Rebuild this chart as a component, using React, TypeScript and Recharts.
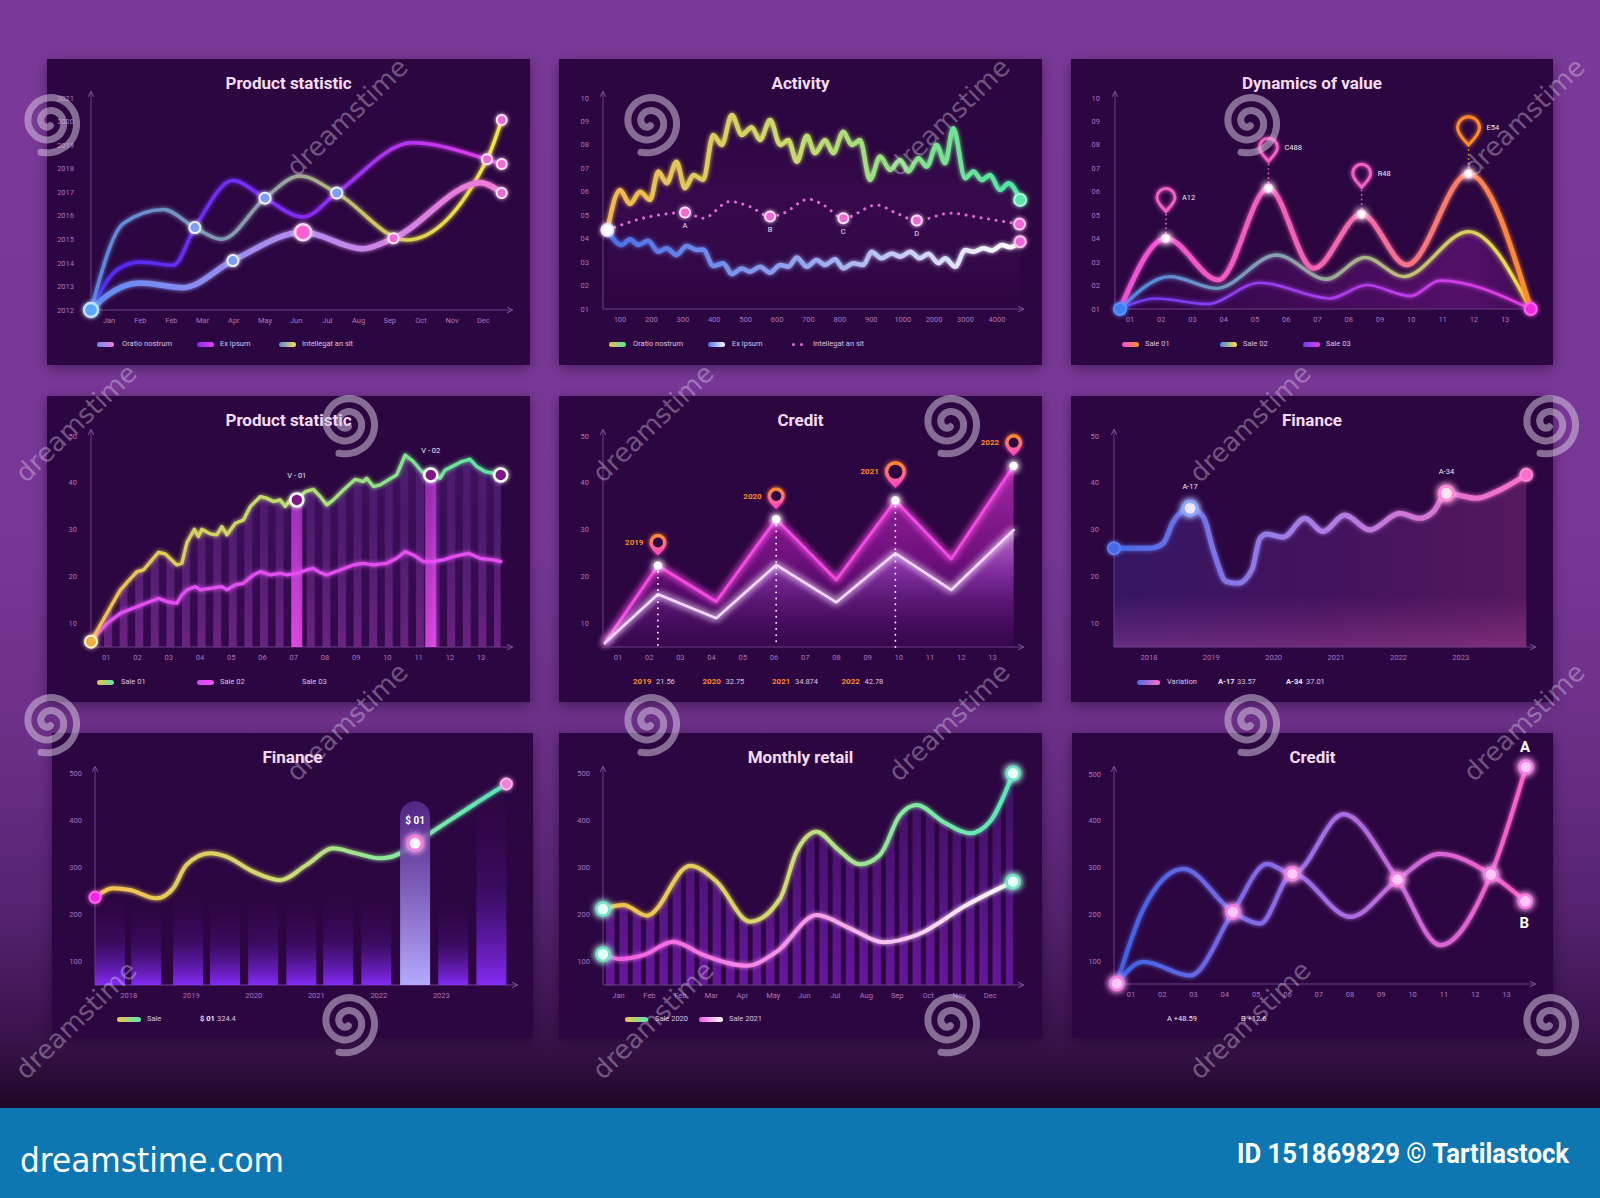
import React from "react";
import { ComposedChart, Line, Area, Scatter, XAxis, YAxis } from "recharts";

const FONT = "Roboto, 'Noto Sans', sans-serif";
const PANEL_BG = "#2c0640";
const AXIS = "#6f3f88";
const TICK = "#ad74c0";
const LEG = "#dcc3e3";
const TITLE = "#f4dcf6";

// ---------- 1. Product statistic (x: month slot, Jan = 1; y: year) ----------
const p1Months = ["Jan", "Feb", "Feb", "Mar", "Apr", "May", "Jun", "Jul", "Aug", "Sep", "Oct", "Nov", "Dec"];
const p1Years = [2012, 2013, 2014, 2015, 2016, 2017, 2018, 2019, 2020, 2021];
const p1Oratio = [[0.42, 2012], [0.92, 2012.6], [1.99, 2013.15], [3.37, 2012.95], [4.97, 2014.1], [7.22, 2015.3], [9.12, 2014.6], [10.12, 2015.05], [12.92, 2017.4], [13.59, 2016.97]];
const p1Ex = [[0.42, 2012], [1.25, 2013.7], [1.99, 2014.04], [3.06, 2013.9], [3.75, 2015.5], [4.97, 2017.5], [6.0, 2016.75], [7.22, 2015.95], [8.3, 2016.97], [10.72, 2019.1], [13.12, 2018.4], [13.59, 2018.2]];
const p1Int = [[0.42, 2012], [1.46, 2015.68], [2.74, 2016.27], [3.75, 2015.5], [4.61, 2015.0], [6.0, 2016.75], [7.12, 2017.69], [8.3, 2016.97], [10.54, 2014.97], [13.12, 2018.4], [13.59, 2020.07]];
const p1Start = [[0.42, 2012]];
const p1MarkBlue = [[3.75, 2015.5], [4.97, 2014.1], [6.0, 2016.75], [8.3, 2016.97]];
const p1MarkBig = [[7.22, 2015.3]];
const p1MarkPink = [[10.12, 2015.05], [13.12, 2018.4], [13.59, 2018.2], [13.59, 2016.97], [13.59, 2020.07]];

// ---------- 2. Activity (x: label slot, 100 = 0) ----------
const p2XLabels = ["100", "200", "300", "400", "500", "600", "700", "800", "900", "1000", "2000", "3000", "4000"];
const p2Or = [[-0.4, 4.37], [0, 6.07], [0.32, 5.48], [0.64, 6.0], [0.96, 5.65], [1.22, 6.86], [1.49, 6.36], [1.8, 7.28], [2.07, 6.15], [2.34, 6.71], [2.65, 6.5], [2.97, 8.42], [3.24, 7.99], [3.56, 9.27], [3.88, 8.42], [4.19, 8.75], [4.46, 8.2], [4.78, 9.06], [5.1, 7.99], [5.36, 8.2], [5.63, 7.28], [5.95, 8.38], [6.21, 7.64], [6.53, 8.2], [6.79, 7.64], [7.11, 8.56], [7.38, 7.99], [7.64, 8.2], [7.96, 6.5], [8.28, 7.5], [8.6, 6.93], [8.92, 7.35], [9.18, 6.86], [9.5, 7.43], [9.77, 7.07], [10.08, 7.99], [10.35, 7.21], [10.61, 8.7], [10.99, 6.57], [11.25, 6.86], [11.52, 6.5], [11.78, 6.71], [12.1, 6.07], [12.37, 6.36], [12.74, 5.65]];
const p2Ex = [[-0.4, 4.37], [0.05, 3.73], [0.32, 3.97], [0.58, 3.73], [0.9, 3.91], [1.22, 3.44], [1.49, 3.59], [1.8, 3.3], [2.12, 3.69], [2.44, 3.52], [2.65, 3.54], [2.97, 2.83], [3.29, 2.95], [3.56, 2.49], [3.88, 2.73], [4.14, 2.59], [4.46, 2.8], [4.78, 2.55], [5.1, 2.88], [5.36, 2.8], [5.63, 3.2], [5.95, 2.8], [6.26, 3.09], [6.53, 2.88], [6.85, 3.12], [7.11, 2.73], [7.43, 2.95], [7.75, 2.88], [8.01, 3.44], [8.33, 3.16], [8.65, 3.37], [8.92, 3.23], [9.24, 3.44], [9.55, 3.16], [9.82, 3.35], [10.14, 2.95], [10.35, 3.16], [10.67, 2.8], [10.99, 3.52], [11.25, 3.44], [11.57, 3.59], [11.84, 3.49], [12.16, 3.73], [12.42, 3.63], [12.74, 3.87]];
const p2Dots = [[-0.4, 4.37], [0.96, 4.94], [2.07, 5.11], [2.65, 4.87], [3.5, 5.58], [4.14, 5.36], [4.78, 4.94], [5.2, 5.08], [6.0, 5.68], [6.48, 5.43], [7.11, 4.87], [8.17, 5.43], [8.81, 5.08], [9.45, 4.77], [10.51, 5.08], [11.57, 4.87], [12.72, 4.62]];
const p2Labels = [{ x: 2.07, y: 5.11, label: "A" }, { x: 4.78, y: 4.94, label: "B" }, { x: 7.11, y: 4.87, label: "C" }, { x: 9.45, y: 4.77, label: "D" }];
const p2Start = [[-0.4, 4.37]];
const p2EndGreen = [[12.74, 5.65]];
const p2EndPink = [[12.72, 4.62], [12.74, 3.87]];

// ---------- 3. Dynamics of value ----------
const p3Sale1 = [[0.68, 1.0], [2.15, 4.01], [3.83, 2.24], [5.43, 6.15], [6.87, 2.73], [8.41, 5.04], [9.85, 2.88], [11.83, 6.76], [13.82, 1.0]];
const p3Sale2 = [[0.68, 1.0], [2.28, 2.38], [3.77, 1.88], [5.69, 3.3], [7.29, 2.27], [8.52, 3.2], [9.75, 2.38], [11.83, 4.3], [13.82, 1.0]];
const p3Sale3 = [[0.68, 1.0], [1.85, 1.45], [3.45, 1.21], [5.16, 2.12], [7.4, 1.45], [8.57, 2.02], [9.96, 1.55], [10.92, 2.21], [13.82, 1.0]];
const p3Pins = [{ x: 2.15, y: 4.01, label: "A12" }, { x: 5.43, y: 6.15, label: "C488" }, { x: 8.41, y: 5.04, label: "R48" }, { x: 11.83, y: 6.76, label: "E54" }];
const p3Start = [[0.68, 1.0]];
const p3End = [[13.82, 1.0]];

// ---------- 4. Product statistic (jagged) ----------
const p4Sale1 = [[0.51, 6.0], [1.02, 12.07], [1.45, 17.07], [1.98, 20.99], [2.19, 21.35], [2.67, 25.13], [2.89, 24.78], [3.26, 22.42], [3.42, 22.78], [3.58, 27.2], [3.82, 30.06], [3.95, 28.49], [4.06, 30.06], [4.33, 29.06], [4.54, 28.84], [4.7, 30.63], [4.86, 28.84], [5.13, 31.34], [5.39, 32.06], [5.61, 34.91], [5.93, 37.05], [6.14, 36.7], [6.35, 35.98], [6.57, 36.34], [6.73, 34.91], [6.89, 36.34], [7.1, 36.34], [7.37, 38.12], [7.63, 38.62], [7.85, 37.05], [8.06, 35.27], [8.27, 36.34], [8.59, 38.48], [8.97, 40.76], [9.23, 40.27], [9.34, 40.98], [9.55, 39.2], [9.77, 39.55], [10.03, 40.62], [10.3, 41.69], [10.57, 45.97], [10.83, 44.55], [11.1, 42.41], [11.39, 41.69], [11.69, 40.98], [11.85, 42.76], [12.17, 43.83], [12.38, 44.55], [12.65, 45.04], [12.86, 43.48], [13.13, 42.41], [13.39, 42.05], [13.63, 41.69]];
const p4Sale2 = [[0.51, 6.0], [1.02, 9.9], [1.45, 12.07], [1.98, 13.49], [2.67, 15.28], [2.94, 14.57], [3.26, 14.21], [3.42, 16.0], [3.58, 17.07], [3.85, 17.78], [4.01, 17.07], [4.33, 17.42], [4.7, 17.78], [4.86, 17.07], [5.13, 18.14], [5.39, 18.49], [5.71, 20.28], [5.93, 20.99], [6.25, 20.28], [6.57, 20.64], [6.78, 20.28], [7.1, 20.64], [7.42, 21.35], [7.63, 21.7], [7.85, 20.78], [8.06, 20.28], [8.49, 21.35], [8.91, 22.42], [9.23, 22.78], [9.55, 22.42], [9.98, 22.78], [10.3, 23.84], [10.57, 25.27], [10.83, 24.56], [11.15, 23.13], [11.47, 23.13], [11.79, 23.49], [12.11, 24.2], [12.59, 24.92], [12.97, 23.84], [13.39, 23.49], [13.63, 23.13]];
const p4Marks = [{ x: 7.1, y: 36.34, label: "V - 01" }, { x: 11.39, y: 41.69, label: "V - 02" }];
const p4Start = [[0.51, 6.0]];
const p4End = [[13.63, 41.69]];

// ---------- 5. Credit (zig-zag) ----------
const p5Upper = [[0.57, 5.65], [2.28, 22.28], [4.15, 14.57], [6.07, 32.2], [8.0, 19.21], [9.89, 36.2], [11.68, 23.7], [13.68, 43.6]];
const p5Lower = [[0.57, 5.65], [2.28, 16.14], [4.15, 11.0], [6.07, 22.42], [8.0, 14.43], [9.89, 24.92], [11.68, 17.07], [13.68, 29.9]];
const p5Pins = [{ x: 2.28, y: 22.28, year: "2019" }, { x: 6.07, y: 32.2, year: "2020" }, { x: 9.89, y: 36.2, year: "2021" }, { x: 13.68, y: 43.6, year: "2022" }];
const p5Legend = [["2019", "21.56"], ["2020", "32.75"], ["2021", "34.874"], ["2022", "42.78"]];

// ---------- 6. Finance (variation) ----------
const p6Var = [[2017.44, 26.0], [2018.02, 26.0], [2018.23, 27.06], [2018.39, 31.7], [2018.66, 34.55], [2018.87, 32.77], [2019.03, 25.63], [2019.24, 18.85], [2019.43, 18.49], [2019.65, 21.35], [2019.78, 28.13], [2019.89, 29.06], [2020.15, 28.35], [2020.5, 32.4], [2020.79, 29.56], [2021.14, 33.13], [2021.54, 29.9], [2022.02, 33.48], [2022.34, 32.4], [2022.56, 33.84], [2022.77, 37.76], [2023.25, 36.7], [2023.57, 38.12], [2024.05, 41.7]];
const p6Marks = [{ x: 2018.66, y: 34.55, label: "A-17" }, { x: 2022.77, y: 37.76, label: "A-34" }];
const p6Start = [[2017.44, 26.0]];
const p6End = [[2024.05, 41.7]];

// ---------- 7. Finance (sale + bars) ----------
const p7Sale = [[2017.46, 235.5], [2017.75, 254.6], [2018.02, 251], [2018.44, 233.3], [2018.71, 254.6], [2018.92, 304], [2019.3, 329], [2019.56, 322], [2019.99, 290], [2020.42, 272], [2020.84, 304], [2021.27, 339.7], [2021.64, 329], [2022.02, 318.4], [2022.34, 329], [2022.58, 350.3], [2022.98, 385.8], [2023.51, 432], [2024.04, 476.6]];
const p7Bars = [[2017.7, 230], [2018.28, 215], [2018.95, 240], [2019.54, 225], [2020.15, 235], [2020.76, 225], [2021.35, 240], [2021.96, 235], [2022.58, 440], [2023.19, 225], [2023.8, 470]];
const p7Focus = 2022.58;
const p7Mark = [{ x: 2022.58, y: 350.3, label: "$ 01" }];
const p7Start = [[2017.46, 235.5]];
const p7End = [[2024.04, 476.6]];

// ---------- 8. Monthly retail ----------
const p8Months = ["Jan", "Feb", "Feb", "Mar", "Apr", "May", "Jun", "Jul", "Aug", "Sep", "Oct", "Nov", "Dec"];
const p8Sale2020 = [[-0.5, 210.6], [0.16, 219], [0.92, 196.5], [2.31, 302.8], [3.17, 268.8], [4.25, 183.7], [5.22, 233.3], [5.75, 332.6], [6.4, 375.2], [7.05, 339.7], [7.8, 305.7], [8.44, 325.5], [9.09, 410.6], [9.63, 432], [10.48, 396.5], [11.35, 371.6], [11.99, 396.5], [12.74, 499.3]];
const p8Sale2021 = [[-0.5, 114.2], [0.05, 104.3], [0.81, 112.8], [1.77, 141.1], [2.74, 112.8], [4.14, 90], [5.11, 119.9], [6.4, 197.9], [7.47, 169.5], [8.55, 139.7], [9.63, 155.3], [11.24, 219], [12.74, 268.8]];
const p8Marks = [[-0.5, 210.6], [-0.5, 114.2], [12.74, 499.3], [12.74, 268.8]];

// ---------- 9. Credit (crossing curves) ----------
const p9A = [[0.55, 52], [1.4, 98.6], [2.89, 68.8], [4.26, 205], [5.35, 307.8], [6.16, 286.5], [7.79, 414.2], [9.52, 274.5], [10.88, 134], [12.5, 285], [13.62, 514.9]];
const p9B = [[0.55, 52], [1.4, 212], [2.68, 297.2], [4.26, 205], [5.13, 180.1], [6.16, 286.5], [8.01, 194.3], [9.52, 274.5], [10.88, 329.1], [12.5, 285], [13.6, 227.7]];
const p9Cross = [[0.55, 52], [4.26, 205], [6.16, 286.5], [9.52, 274.5], [12.5, 285]];
const p9Ends = [{ x: 13.62, y: 514.9, label: "A" }, { x: 13.6, y: 227.7, label: "B" }];

const yTicksSmall = [10, 20, 30, 40, 50];
const yTicksBig = [100, 200, 300, 400, 500];
const yearTicks = [2018, 2019, 2020, 2021, 2022, 2023];

// ---------- layout helpers ----------
type Lay = { left: number; top: number; w: number; h: number; pl: number; pt: number; pr: number; pb: number };
const YW = 30;
const XH = 20;
const L1: Lay = { left: 47, top: 59, w: 483, h: 306, pl: 44, pt: 33, pr: 465, pb: 251 };
const L2: Lay = { left: 559, top: 59, w: 483, h: 306, pl: 44, pt: 33, pr: 464, pb: 250 };
const L3: Lay = { left: 1071, top: 59, w: 482, h: 306, pl: 44, pt: 33, pr: 461, pb: 250 };
const L4: Lay = { left: 47, top: 396, w: 483, h: 306, pl: 44, pt: 34, pr: 465, pb: 251 };
const L5: Lay = { left: 559, top: 396, w: 483, h: 306, pl: 44, pt: 34, pr: 464, pb: 251 };
const L6: Lay = { left: 1071, top: 396, w: 482, h: 306, pl: 43, pt: 34, pr: 464, pb: 251 };
const L7: Lay = { left: 52, top: 733, w: 481, h: 305, pl: 43, pt: 34, pr: 465, pb: 252 };
const L8: Lay = { left: 559, top: 733, w: 483, h: 305, pl: 44, pt: 34, pr: 464, pb: 252 };
const L9: Lay = { left: 1072, top: 733, w: 481, h: 305, pl: 42, pt: 34, pr: 463, pb: 251 };
const marginOf = (L: Lay) => ({ top: L.pt, right: L.w - L.pr, bottom: L.h - L.pb - XH, left: L.pl - YW });

const xy = (a: number[][]) => a.map(([x, y]) => ({ x, y }));
const two = (v: number) => String(Math.round(v)).padStart(2, "0");
const range = (a: number, b: number) => {
  const r: number[] = [];
  for (let v = a; v <= b; v++) r.push(v);
  return r;
};
const common: any = { dot: false, activeDot: false, isAnimationActive: false, legendType: "none", strokeLinecap: "round", strokeLinejoin: "round", filter: "url(#glow)" };
const dot = (r: number, fill: string, stroke: string, sw = 2, f = "url(#glow)") => (p: any) => (
  <circle cx={p.cx} cy={p.cy} r={r} fill={fill} stroke={stroke} strokeWidth={sw} filter={f} />
);

function axes(xd: number[], xt: number[], xf: (v: number) => string, yd: number[], yt: number[], yf: (v: number) => string, ym = 8) {
  const tick = { fill: TICK, fontSize: 7.5, fontFamily: FONT };
  return [
    <XAxis key="xa" type="number" dataKey="x" domain={xd} ticks={xt} interval={0} tickFormatter={xf} tick={tick} tickLine={false} height={XH} axisLine={{ stroke: AXIS, strokeWidth: 1, markerEnd: "url(#arr)" }} />,
    <YAxis key="ya" type="number" dataKey="y" domain={yd} ticks={yt} interval={0} tickFormatter={yf} tick={tick} tickLine={false} width={YW} tickMargin={ym} axisLine={{ stroke: AXIS, strokeWidth: 1, markerStart: "url(#arr)" }} />,
  ];
}

function drop(cx: number, tip: number, R: number) {
  const c = tip - R * 1.55;
  const k = R * 0.6;
  return `M${cx} ${tip} C${cx - R * 0.3} ${tip - R * 0.35} ${cx - R} ${c + k} ${cx - R} ${c} A${R} ${R} 0 1 1 ${cx + R} ${c} C${cx + R} ${c + k} ${cx + R * 0.3} ${tip - R * 0.35} ${cx} ${tip} Z`;
}

function Panel({ L, title, children }: { L: Lay; title: string; children: React.ReactNode }) {
  return (
    <div style={{ position: "absolute", left: L.left, top: L.top, width: L.w, height: L.h, background: PANEL_BG, boxShadow: "0 3px 12px rgba(20,0,30,0.45)", overflow: "hidden" }}>
      {children}
      <div style={{ position: "absolute", left: 0, right: 0, top: 13, textAlign: "center", color: TITLE, fontFamily: FONT, fontWeight: 700, fontSize: 17, lineHeight: "22px" }}>{title}</div>
    </div>
  );
}

function Plot({ L, children }: { L: Lay; children: React.ReactNode }) {
  return (
    <div style={{ position: "absolute", left: 0, top: 0 }}>
      <ComposedChart width={L.w} height={L.h} margin={marginOf(L)}>
        {children}
      </ComposedChart>
    </div>
  );
}

const Sw = ({ x, y, w = 17, bg }: { x: number; y: number; w?: number; bg: string }) => (
  <div style={{ position: "absolute", left: x, top: y - 2, width: w, height: 4.5, borderRadius: 3, background: bg }} />
);
const Tx = ({ x, y, c = LEG, b = false, s = 7.5, children }: any) => (
  <div style={{ position: "absolute", left: x, top: y - 6, lineHeight: "12px", fontSize: s, color: c, fontWeight: b ? 700 : 400, fontFamily: FONT, whiteSpace: "nowrap" }}>{children}</div>
);

// ---------- panels ----------
function Chart1() {
  const L = L1;
  return (
    <Panel L={L} title="Product statistic">
      <Plot L={L}>
        {axes([0.42, 13.92], range(1, 13), (v) => p1Months[Math.round(v) - 1] ?? "", [2012, 2021.26], p1Years, (v) => String(v), 11)}
        <Line data={xy(p1Ex)} dataKey="y" type="monotone" stroke="url(#g1Ex)" strokeWidth={3.5} {...common} />
        <Line data={xy(p1Int)} dataKey="y" type="monotone" stroke="url(#g1Int)" strokeWidth={3.5} {...common} />
        <Line data={xy(p1Oratio)} dataKey="y" type="monotone" stroke="url(#g1Or)" strokeWidth={5.5} {...common} />
        <Scatter data={xy(p1MarkBlue)} dataKey="y" shape={dot(5.5, "#7d9ef6", "#eef0ff")} isAnimationActive={false} />
        <Scatter data={xy(p1MarkPink)} dataKey="y" shape={dot(5, "#ef6ad2", "#ffe6f7")} isAnimationActive={false} />
        <Scatter data={xy(p1MarkBig)} dataKey="y" shape={dot(8, "#ff5fd2", "#ffd8f4", 2.5)} isAnimationActive={false} />
        <Scatter data={xy(p1Start)} dataKey="y" shape={dot(7, "#5aa8ff", "#bfe2ff", 2.5)} isAnimationActive={false} />
      </Plot>
      <Sw x={50} y={285} bg="linear-gradient(90deg,#6f90f0,#f47ad6)" />
      <Tx x={75} y={285}>Oratio nostrum</Tx>
      <Sw x={150} y={285} bg="linear-gradient(90deg,#7a2cf5,#f040e0)" />
      <Tx x={173} y={285}>Ex ipsum</Tx>
      <Sw x={232} y={285} bg="linear-gradient(90deg,#5a86e0,#f5e83a)" />
      <Tx x={255} y={285}>Intellegat an sit</Tx>
    </Panel>
  );
}

function Chart2() {
  const L = L2;
  const lab = (p: any) => (
    <g>
      <circle cx={p.cx} cy={p.cy} r={5} fill="#ef6ad6" stroke="#ffe2f7" strokeWidth={2} filter="url(#glow)" />
      <text x={p.cx} y={p.cy + 13} textAnchor="middle" dominantBaseline="central" fill="#f2e4f4" fontSize={7.5} fontFamily={FONT}>{p.payload.label}</text>
    </g>
  );
  return (
    <Panel L={L} title="Activity">
      <Plot L={L}>
        {axes([-0.54, 12.83], range(0, 12), (v) => p2XLabels[Math.round(v)] ?? "", [1, 10.25], range(1, 10), two)}
        <Area data={xy(p2Or)} dataKey="y" type="monotone" stroke="none" fill="url(#g2haze)" dot={false} activeDot={false} isAnimationActive={false} legendType="none" />
        <Line data={xy(p2Dots)} dataKey="y" type="monotone" stroke="#e466d8" strokeWidth={3} {...common} filter={undefined} strokeDasharray="0.1 7.5" />
        <Line data={xy(p2Ex)} dataKey="y" type="monotone" stroke="url(#g2Ex)" strokeWidth={4.5} {...common} />
        <Line data={xy(p2Or)} dataKey="y" type="monotone" stroke="url(#g2Or)" strokeWidth={4.5} {...common} />
        <Scatter data={p2Labels} dataKey="y" shape={lab} isAnimationActive={false} />
        <Scatter data={xy(p2Start)} dataKey="y" shape={dot(6, "#ffffff", "#e8e0ff")} isAnimationActive={false} />
        <Scatter data={xy(p2EndGreen)} dataKey="y" shape={dot(6, "#5fe6ae", "#a8ffd8")} isAnimationActive={false} />
        <Scatter data={xy(p2EndPink)} dataKey="y" shape={dot(5.5, "#f266d8", "#ffc4f0")} isAnimationActive={false} />
      </Plot>
      <Sw x={50} y={285} bg="linear-gradient(90deg,#f5b84a,#4fe6a6)" />
      <Tx x={74} y={285}>Oratio nostrum</Tx>
      <Sw x={149} y={285} bg="linear-gradient(90deg,#4a6ee6,#ffffff)" />
      <Tx x={173} y={285}>Ex ipsum</Tx>
      <div style={{ position: "absolute", left: 233, top: 283.5, width: 3, height: 3, borderRadius: 2, background: "#e466d8" }} />
      <div style={{ position: "absolute", left: 241, top: 283.5, width: 3, height: 3, borderRadius: 2, background: "#e466d8" }} />
      <Tx x={254} y={285}>Intellegat an sit</Tx>
    </Panel>
  );
}

function Chart3() {
  const L = L3;
  const pin = (p: any) => {
    const big = p.payload.label === "E54";
    const R = big ? 11 : 9;
    const tip = p.cy - (big ? 29 : 27);
    const col = big ? "#ff8a2a" : "#f45fc6";
    const c = tip - R * 1.55;
    return (
      <g>
        <line x1={p.cx} y1={p.cy - 5} x2={p.cx} y2={tip} stroke={col} strokeWidth={1.6} strokeDasharray="1.5 3" />
        <path d={drop(p.cx, tip, R)} fill="none" stroke={col} strokeWidth={3} filter="url(#glow)" />
        <text x={p.cx + R + 7} y={c} dominantBaseline="central" fill="#f3e6f5" fontSize={7.5} fontFamily={FONT}>{p.payload.label}</text>
        <circle cx={p.cx} cy={p.cy} r={4} fill="#ffffff" stroke="#ffd0f0" strokeWidth={1.5} filter="url(#glowB)" />
      </g>
    );
  };
  return (
    <Panel L={L} title="Dynamics of value">
      <Plot L={L}>
        {axes([0.52, 13.86], range(1, 13), two, [1, 10.25], range(1, 10), two, 9)}
        <Area data={xy(p3Sale2)} dataKey="y" type="monotone" stroke="none" fill="url(#g3Fill)" dot={false} activeDot={false} isAnimationActive={false} legendType="none" />
        <Line data={xy(p3Sale3)} dataKey="y" type="monotone" stroke="url(#g3S3)" strokeWidth={2.6} {...common} />
        <Line data={xy(p3Sale2)} dataKey="y" type="monotone" stroke="url(#g3S2)" strokeWidth={3.4} {...common} />
        <Line data={xy(p3Sale1)} dataKey="y" type="monotone" stroke="url(#g3S1)" strokeWidth={4.8} {...common} />
        <Scatter data={p3Pins} dataKey="y" shape={pin} isAnimationActive={false} />
        <Scatter data={xy(p3Start)} dataKey="y" shape={dot(6, "#3f7ff0", "#5a90ff")} isAnimationActive={false} />
        <Scatter data={xy(p3End)} dataKey="y" shape={dot(6, "#f02ee0", "#ff60f0")} isAnimationActive={false} />
      </Plot>
      <Sw x={51} y={285} bg="linear-gradient(90deg,#f050d8,#ff8c2a)" />
      <Tx x={74} y={285}>Sale 01</Tx>
      <Sw x={149} y={285} bg="linear-gradient(90deg,#4a86e6,#f5e23c)" />
      <Tx x={172} y={285}>Sale 02</Tx>
      <Sw x={232} y={285} bg="linear-gradient(90deg,#6a3cf0,#e83ee6)" />
      <Tx x={255} y={285}>Sale 03</Tx>
    </Panel>
  );
}

function Chart4() {
  const L = L4;
  const col = (p: any) => <rect x={p.cx - 5.5} y={p.cy} width={11} height={Math.max(0, L.pb - p.cy)} fill="url(#g4hl)" />;
  const vMark = (p: any) => (
    <g>
      <circle cx={p.cx} cy={p.cy} r={6.5} fill="#7e1488" stroke="#ffffff" strokeWidth={2.5} filter="url(#glow)" />
      {p.payload.label && (
        <text x={p.cx} y={p.cy - 24} textAnchor="middle" dominantBaseline="central" fill="#f2e4f4" fontSize={7.5} fontFamily={FONT}>{p.payload.label}</text>
      )}
    </g>
  );
  return (
    <Panel L={L} title="Product statistic">
      <Plot L={L}>
        {axes([0.52, 13.99], range(1, 13), two, [4.86, 51.3], yTicksSmall, (v) => String(v))}
        <Area data={xy(p4Sale1)} dataKey="y" type="linear" stroke="none" fill="url(#g4haze)" dot={false} activeDot={false} isAnimationActive={false} legendType="none" />
        <Area data={xy(p4Sale1)} dataKey="y" type="linear" stroke="none" fill="url(#p4stripes)" dot={false} activeDot={false} isAnimationActive={false} legendType="none" />
        <Scatter data={p4Marks} dataKey="y" shape={col} isAnimationActive={false} />
        <Line data={xy(p4Sale2)} dataKey="y" type="linear" stroke="#e24ff0" strokeWidth={3.3} {...common} />
        <Line data={xy(p4Sale1)} dataKey="y" type="linear" stroke="url(#g4S1)" strokeWidth={3.3} {...common} />
        <Scatter data={p4Marks} dataKey="y" shape={vMark} isAnimationActive={false} />
        <Scatter data={xy(p4End)} dataKey="y" shape={vMark} isAnimationActive={false} />
        <Scatter data={xy(p4Start)} dataKey="y" shape={dot(6, "#f0b040", "#fff2d0")} isAnimationActive={false} />
      </Plot>
      <Sw x={50} y={286} bg="linear-gradient(90deg,#f5c04a,#55e6a8)" />
      <Tx x={74} y={286}>Sale 01</Tx>
      <Sw x={150} y={286} bg="linear-gradient(90deg,#d04af0,#f050f0)" />
      <Tx x={173} y={286}>Sale 02</Tx>
      <Tx x={255} y={286}>Sale 03</Tx>
    </Panel>
  );
}

function Chart5() {
  const L = L5;
  const pin = (p: any) => {
    const big = p.payload.year === "2021";
    const R = big ? 10.5 : 8.5;
    const tip = p.cy - (big ? 12.5 : 10);
    const c = tip - R * 1.55;
    const last = p.payload.year === "2022";
    return (
      <g>
        {!last && <line x1={p.cx} y1={p.cy + 6} x2={p.cx} y2={L.pb} stroke="#ffffff" strokeWidth={1.8} strokeDasharray="0.1 6" strokeLinecap="round" />}
        <path d={drop(p.cx, tip, R)} fill="url(#g5pin)" filter="url(#glow)" />
        <circle cx={p.cx} cy={c} r={R - 3.5} fill={PANEL_BG} />
        <text x={p.cx - R - 6} y={c} textAnchor="end" dominantBaseline="central" fill="#ff8a2a" fontWeight={700} fontSize={8} fontFamily={FONT}>{p.payload.year}</text>
        <circle cx={p.cx} cy={p.cy} r={4.2} fill="#ffffff" filter="url(#glowB)" />
      </g>
    );
  };
  return (
    <Panel L={L} title="Credit">
      <Plot L={L}>
        {axes([0.52, 13.98], range(1, 13), two, [4.86, 51.3], yTicksSmall, (v) => String(v))}
        <Area data={xy(p5Upper)} dataKey="y" type="linear" stroke="none" fill="url(#g5up)" dot={false} activeDot={false} isAnimationActive={false} legendType="none" />
        <Line data={xy(p5Upper)} dataKey="y" type="linear" stroke="#f24ae0" strokeWidth={3} {...common} filter="url(#glowB)" />
        <Area data={xy(p5Lower)} dataKey="y" type="linear" stroke="none" fill="url(#g5lo)" dot={false} activeDot={false} isAnimationActive={false} legendType="none" />
        <Line data={xy(p5Lower)} dataKey="y" type="linear" stroke="#f4d8ff" strokeWidth={2.6} {...common} filter="url(#glowB)" />
        <Scatter data={p5Pins} dataKey="y" shape={pin} isAnimationActive={false} />
      </Plot>
      {p5Legend.map(([yr, val], i) => (
        <React.Fragment key={yr}>
          <Tx x={74 + i * 69.5} y={286} c="#ff8a2a" b s={8}>{yr}</Tx>
          <Tx x={97 + i * 69.5} y={286}>{val}</Tx>
        </React.Fragment>
      ))}
    </Panel>
  );
}

function Chart6() {
  const L = L6;
  const lab = (p: any) => (
    <g>
      <circle cx={p.cx} cy={p.cy} r={7} fill={p.payload.label === "A-17" ? "#f0e4ff" : "#ffe2f6"} stroke={p.payload.label === "A-17" ? "#8aa8ff" : "#ff8ad8"} strokeWidth={3} filter="url(#glowB)" />
      <text x={p.cx} y={p.cy - 22} textAnchor="middle" dominantBaseline="central" fill="#f2e4f4" fontSize={7.5} fontFamily={FONT}>{p.payload.label}</text>
    </g>
  );
  return (
    <Panel L={L} title="Finance">
      <Plot L={L}>
        {axes([2017.44, 2024.19], yearTicks, (v) => String(v), [4.86, 51.3], yTicksSmall, (v) => String(v), 9)}
        <Area data={xy(p6Var)} dataKey="y" type="monotone" stroke="none" fill="url(#g6fill)" dot={false} activeDot={false} isAnimationActive={false} legendType="none" />
        <Area data={xy(p6Var)} dataKey="y" type="monotone" stroke="none" fill="url(#g6glow)" dot={false} activeDot={false} isAnimationActive={false} legendType="none" />
        <Line data={xy(p6Var)} dataKey="y" type="monotone" stroke="url(#g6Var)" strokeWidth={5} {...common} />
        <Scatter data={p6Marks} dataKey="y" shape={lab} isAnimationActive={false} />
        <Scatter data={xy(p6Start)} dataKey="y" shape={dot(6, "#4a6ae6", "#5e7ef2")} isAnimationActive={false} />
        <Scatter data={xy(p6End)} dataKey="y" shape={dot(6, "#ff6ec8", "#ff8ad6")} isAnimationActive={false} />
      </Plot>
      <Sw x={66} y={286} w={23} bg="linear-gradient(90deg,#4a6ae6,#ff6ec8)" />
      <Tx x={96} y={286}>Variation</Tx>
      <Tx x={147} y={286} c="#f2e4f4" b>A-17</Tx>
      <Tx x={166} y={286}>33.57</Tx>
      <Tx x={215} y={286} c="#f2e4f4" b>A-34</Tx>
      <Tx x={235} y={286}>37.01</Tx>
    </Panel>
  );
}

function Chart7() {
  const L = L7;
  const bar = (p: any) => {
    const hl = p.payload.x === p7Focus;
    const x0 = p.cx - 15;
    const top = p.cy;
    const d = hl
      ? `M${x0} ${L.pb} L${x0} ${top + 15} A15 15 0 0 1 ${x0 + 30} ${top + 15} L${x0 + 30} ${L.pb} Z`
      : `M${x0} ${L.pb} L${x0} ${top} L${x0 + 30} ${top} L${x0 + 30} ${L.pb} Z`;
    return <path d={d} fill={hl ? "url(#g7hl)" : "url(#g7bar)"} />;
  };
  const focus = (p: any) => (
    <g>
      <circle cx={p.cx} cy={p.cy} r={7} fill="#fff2ff" stroke="#f27ee0" strokeWidth={3} filter="url(#glowB)" />
      <text x={p.cx} y={p.cy - 23} textAnchor="middle" dominantBaseline="central" fill="#ffffff" fontWeight={700} fontSize={10} fontFamily={FONT}>{p.payload.label}</text>
    </g>
  );
  return (
    <Panel L={L} title="Finance">
      <Plot L={L}>
        {axes([2017.46, 2024.21], yearTicks, (v) => String(v), [48.9, 512.8], yTicksBig, (v) => String(v), 7)}
        <Scatter data={xy(p7Bars)} dataKey="y" shape={bar} isAnimationActive={false} />
        <Line data={xy(p7Sale)} dataKey="y" type="monotone" stroke="url(#g7S)" strokeWidth={4} {...common} />
        <Scatter data={p7Mark} dataKey="y" shape={focus} isAnimationActive={false} />
        <Scatter data={xy(p7Start)} dataKey="y" shape={dot(5.5, "#f028e0", "#ff60f0")} isAnimationActive={false} />
        <Scatter data={xy(p7End)} dataKey="y" shape={dot(5.5, "#f080d8", "#ffb0ec")} isAnimationActive={false} />
      </Plot>
      <Sw x={65} y={286} w={24} bg="linear-gradient(90deg,#f5c04a,#55e8b8)" />
      <Tx x={95} y={286}>Sale</Tx>
      <Tx x={148} y={286} c="#f2e4f4" b>$ 01</Tx>
      <Tx x={165} y={286}>324.4</Tx>
    </Panel>
  );
}

function Chart8() {
  const L = L8;
  return (
    <Panel L={L} title="Monthly retail">
      <Plot L={L}>
        {axes([-0.48, 13.06], range(0, 12), (v) => p8Months[Math.round(v)] ?? "", [48.9, 512.8], yTicksBig, (v) => String(v), 7)}
        <Area data={xy(p8Sale2020)} dataKey="y" type="monotone" stroke="none" fill="url(#p8stripes)" dot={false} activeDot={false} isAnimationActive={false} legendType="none" />
        <Line data={xy(p8Sale2021)} dataKey="y" type="monotone" stroke="url(#g8S21)" strokeWidth={4} {...common} />
        <Line data={xy(p8Sale2020)} dataKey="y" type="monotone" stroke="url(#g7S)" strokeWidth={4} {...common} />
        <Scatter data={xy(p8Marks)} dataKey="y" shape={dot(6.5, "#e8fff8", "#6de6c4", 2.5, "url(#glowB)")} isAnimationActive={false} />
      </Plot>
      <Sw x={66} y={286} w={23} bg="linear-gradient(90deg,#f5c04a,#55e8b8)" />
      <Tx x={96} y={286}>Sale 2020</Tx>
      <Sw x={140} y={286} w={24} bg="linear-gradient(90deg,#f05ae0,#ffffff)" />
      <Tx x={170} y={286}>Sale 2021</Tx>
    </Panel>
  );
}

function Chart9() {
  const L = L9;
  const endMark = (p: any) => {
    const up = p.payload.label === "A";
    return (
      <g>
        <circle cx={p.cx} cy={p.cy} r={6.5} fill="#ffc8f6" stroke="#f27ee6" strokeWidth={2.5} filter="url(#glowB)" />
        <text x={p.cx - 1} y={p.cy + (up ? -20 : 22)} textAnchor="middle" dominantBaseline="central" fill="#ffffff" fontWeight={700} fontSize={15} fontFamily={FONT}>{p.payload.label}</text>
      </g>
    );
  };
  return (
    <Panel L={L} title="Credit">
      <Plot L={L}>
        {axes([0.46, 13.91], range(1, 13), two, [51, 512.8], yTicksBig, (v) => String(v), 7)}
        <Line data={xy(p9B)} dataKey="y" type="monotone" stroke="url(#g9)" strokeWidth={4.2} {...common} />
        <Line data={xy(p9A)} dataKey="y" type="monotone" stroke="url(#g9)" strokeWidth={4.2} {...common} />
        <Scatter data={xy(p9Cross)} dataKey="y" shape={dot(6.5, "#ffc8f6", "#f27ee6", 2.5, "url(#glowB)")} isAnimationActive={false} />
        <Scatter data={p9Ends} dataKey="y" shape={endMark} isAnimationActive={false} />
      </Plot>
      <Tx x={95} y={286} c="#f2e4f4">A +48.59</Tx>
      <Tx x={169} y={286} c="#f2e4f4">B +12.6</Tx>
    </Panel>
  );
}

// ---------- shared SVG defs ----------
type Stop = [number, string, number?];
const hg = (id: string, stops: Stop[], vertical = false) => (
  <linearGradient key={id} id={id} x1="0" y1="0" x2={vertical ? "0" : "1"} y2={vertical ? "1" : "0"}>
    {stops.map(([o, c, op], i) => (
      <stop key={i} offset={o} stopColor={c} stopOpacity={op ?? 1} />
    ))}
  </linearGradient>
);

function Defs() {
  return (
    <svg width={0} height={0} style={{ position: "absolute", left: 0, top: 0 }}>
      <defs>
        <marker id="arr" viewBox="0 0 10 10" refX="8" refY="5" markerWidth="7" markerHeight="7" markerUnits="userSpaceOnUse" orient="auto-start-reverse">
          <path d="M1 1 L9 5 L1 9" fill="none" stroke="#8a55a0" strokeWidth="1.4" />
        </marker>
        <filter id="glow" filterUnits="userSpaceOnUse" x="-40" y="-40" width="600" height="400">
          <feGaussianBlur in="SourceGraphic" stdDeviation="2" result="b" />
          <feMerge>
            <feMergeNode in="b" />
            <feMergeNode in="SourceGraphic" />
          </feMerge>
        </filter>
        <filter id="glowB" filterUnits="userSpaceOnUse" x="-40" y="-40" width="600" height="400">
          <feGaussianBlur in="SourceGraphic" stdDeviation="3.5" result="b" />
          <feMerge>
            <feMergeNode in="b" />
            <feMergeNode in="b" />
            <feMergeNode in="SourceGraphic" />
          </feMerge>
        </filter>
        {hg("g1Or", [[0, "#5f8cf0"], [0.5, "#b38cf0"], [1, "#f47ad6"]])}
        {hg("g1Ex", [[0, "#4b2ff0"], [0.55, "#8a2cf5"], [1, "#e63fe6"]])}
        {hg("g1Int", [[0, "#5a86e0"], [0.45, "#8fa3a0"], [0.75, "#d9d050"], [1, "#f5e83a"]])}
        {hg("g2Or", [[0, "#f5b84a"], [0.45, "#c8dd6a"], [1, "#4fe6a6"]])}
        {hg("g2Ex", [[0, "#4a6ee6"], [0.5, "#9aa8f0"], [1, "#ffffff"]])}
        {hg("g2haze", [[0, "#6a1a8a", 0], [0.4, "#6a1a8a", 0.25], [0.75, "#6a1a8a", 0.2], [1, "#6a1a8a", 0]], true)}
        {hg("g3S1", [[0, "#f050d8"], [0.6, "#f46aa8"], [1, "#ff8c2a"]])}
        {hg("g3S2", [[0, "#4a86e6"], [0.5, "#9aa89a"], [1, "#f5e23c"]])}
        {hg("g3S3", [[0, "#6a3cf0"], [1, "#e83ee6"]])}
        {hg("g3Fill", [[0, "#8a1aa8", 0], [0.35, "#8a1aa8", 0.3], [0.85, "#9a20b0", 0.6], [1, "#9a20b0", 0.3]])}
        {hg("g4S1", [[0, "#f5c04a"], [0.5, "#b8e070"], [1, "#55e6a8"]])}
        {hg("g4haze", [[0, "#7a3ac0", 0.4], [1, "#7a2ab0", 0.12]], true)}
        {hg("g4stripe", [[0, "#9a50d0", 0.22], [0.4, "#9a50d0", 0.32], [0.82, "#c848e0", 0.65]], true)}
        {hg("g4hl", [[0, "#e040f0", 0.55], [1, "#f050f0", 0.85]], true)}
        {hg("g5up", [[0, "#f040e0", 1], [0.5, "#b81cc0", 0.8], [1, "#6a0c88", 0.3]], true)}
        {hg("g5lo", [[0, "#e8c0ff", 0.95], [0.35, "#b060e0", 0.65], [1, "#400a60", 0.05]], true)}
        {hg("g5pin", [[0, "#ff8c2a"], [0.55, "#ff6a8a"], [1, "#ff3ad8"]], true)}
        {hg("g6Var", [[0, "#4a6ae6"], [0.45, "#a47ee8"], [1, "#ff6ec8"]])}
        {hg("g6fill", [[0, "#5040c8", 0.45], [0.5, "#8a3ab8", 0.4], [1, "#c04ab0", 0.45]])}
        {hg("g6glow", [[0, "#ff60c0", 0], [0.7, "#ff60c0", 0], [1, "#ff70d0", 0.4]], true)}
        {hg("g7S", [[0, "#f5c04a"], [0.45, "#d0dc70"], [0.7, "#8ee89a"], [1, "#55e8b8"]])}
        {hg("g7bar", [[0, "#4a0e80", 0], [0.5, "#5a18a8", 0.3], [1, "#8a2cff", 0.95]], true)}
        {hg("g7hl", [[0, "#5a2a90", 0.85], [1, "#b4aaff", 1]], true)}
        {hg("g8S21", [[0, "#f05ae0"], [0.5, "#f59ae8"], [1, "#ffffff"]])}
        {hg("g8stripe", [[0.12, "#4a1470"], [0.83, "#8c22d8"]], true)}
        {hg("g9", [[0, "#3f62e6"], [0.5, "#a06ee6"], [1, "#ff5ec8"]])}
        <pattern id="p4stripes" patternUnits="userSpaceOnUse" x="10.2" y="0" width="15.6" height="306">
          <rect x="0" y="0" width="8" height="306" fill="url(#g4stripe)" />
        </pattern>
        <pattern id="p8stripes" patternUnits="userSpaceOnUse" x="47" y="0" width="13.33" height="305">
          <rect x="0" y="0" width="8.5" height="305" fill="url(#g8stripe)" />
        </pattern>
      </defs>
    </svg>
  );
}

// ---------- watermark + footer ----------
const wmSpirals = [[49, 122], [649, 122], [1249, 122], [347, 423], [949, 423], [1548, 423], [49, 722], [649, 722], [1249, 722], [347, 1022], [949, 1022], [1548, 1022]];
const wmTexts = [[347, 117], [949, 117], [1524, 117], [76, 423], [653, 423], [1250, 423], [347, 722], [949, 722], [1524, 722], [76, 1020], [653, 1020], [1250, 1020]];

function spiralPath(cx: number, cy: number) {
  let d = "";
  for (let i = 0; i <= 120; i++) {
    const t = (i / 120) * Math.PI * 4.2;
    const r = 4 + (13 * t) / (2 * Math.PI);
    const a = t + 1.2;
    d += (i ? " L" : "M") + (cx + r * Math.cos(a)).toFixed(1) + " " + (cy + r * Math.sin(a)).toFixed(1);
  }
  return d;
}

function Watermarks() {
  return (
    <svg width={1600} height={1108} style={{ position: "absolute", left: 0, top: 0, pointerEvents: "none" }}>
      {wmSpirals.map(([x, y], i) => (
        <path key={"s" + i} d={spiralPath(x, y)} fill="none" stroke="rgba(210,195,220,0.55)" strokeWidth={7} strokeLinecap="round" />
      ))}
      {wmTexts.map(([x, y], i) => (
        <text key={"t" + i} x={x} y={y} transform={`rotate(-44 ${x} ${y})`} textAnchor="middle" dominantBaseline="central" fontSize={26} fontFamily="'DejaVu Sans', sans-serif" fill="rgba(230,215,238,0.38)">
          dreamstime
        </text>
      ))}
    </svg>
  );
}

function Footer() {
  return (
    <svg width={1600} height={90} style={{ position: "absolute", left: 0, top: 1108 }}>
      <rect width={1600} height={90} fill="#0e76b1" />
      <text x={20} y={64} fill="#ffffff" fontFamily="'DejaVu Sans', sans-serif" fontSize={34} textLength={264} lengthAdjust="spacingAndGlyphs">dreamstime.com</text>
      <text x={1237} y={55} fill="#ffffff" fontFamily={FONT} fontWeight={700} fontSize={27} textLength={332} lengthAdjust="spacingAndGlyphs">ID 151869829 © Tartilastock</text>
    </svg>
  );
}

export default function App() {
  return (
    <div style={{ position: "absolute", left: 0, top: 0, width: 1600, height: 1198, overflow: "hidden", background: "linear-gradient(180deg,#7b3a99 0%,#783797 45%,#6c2f88 62%,#552270 76%,#38124a 87%,#1f0725 92.5%)" }}>
      <Defs />
      <Chart1 />
      <Chart2 />
      <Chart3 />
      <Chart4 />
      <Chart5 />
      <Chart6 />
      <Chart7 />
      <Chart8 />
      <Chart9 />
      <Watermarks />
      <Footer />
    </div>
  );
}
